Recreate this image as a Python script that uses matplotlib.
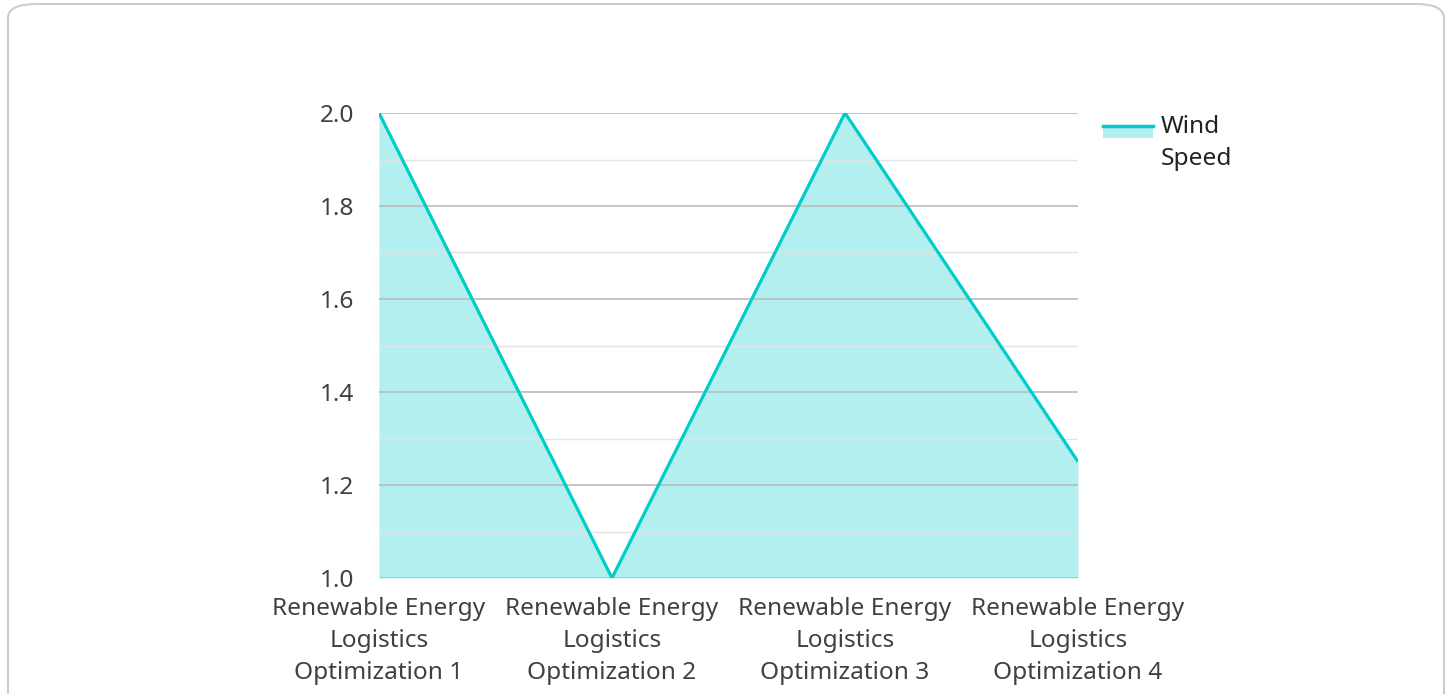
import matplotlib
matplotlib.use("Agg")
import matplotlib.pyplot as plt
from matplotlib.patches import FancyBboxPatch, Rectangle
from matplotlib.lines import Line2D
from matplotlib.ticker import MultipleLocator

plt.rcParams['font.family'] = ['Noto Sans', 'DejaVu Sans']

# Data
categories = ["Renewable Energy\nLogistics\nOptimization 1",
              "Renewable Energy\nLogistics\nOptimization 2",
              "Renewable Energy\nLogistics\nOptimization 3",
              "Renewable Energy\nLogistics\nOptimization 4"]
wind_speed = [2.0, 1.0, 2.0, 1.25]
series_name = "Wind\nSpeed"

line_color = "#00CCCC"
fill_color = "#B2EFEE"
text_color = "#404040"
fs = 17.6

W, H = 1452, 694
fig = plt.figure(figsize=(W / 100, H / 100), dpi=100)

# rounded frame around the chart
frame = FancyBboxPatch((8 / W, -20 / H), (W - 16) / W, (H - 4 + 20) / H,
                       boxstyle="round,pad=0,rounding_size=0.02",
                       transform=fig.transFigure, facecolor="none",
                       edgecolor="#CCCCCC", linewidth=1.5, zorder=-1)
fig.patches.append(frame)

ax = fig.add_axes([379 / W, 1 - 578 / H, (1078 - 379) / W, (578 - 113) / H])
ax.set_facecolor("none")
x = list(range(len(categories)))
ax.fill_between(x, wind_speed, 1.0, color=fill_color, linewidth=0, zorder=1)
ax.plot(x, wind_speed, color=line_color, linewidth=2.3, zorder=3,
        solid_capstyle="butt")

ax.set_xlim(0, len(categories) - 1)
ax.set_ylim(1.0, 2.0)
ax.yaxis.set_major_locator(MultipleLocator(0.2))
ax.yaxis.set_minor_locator(MultipleLocator(0.1))
ax.set_axisbelow(False)
ax.grid(axis="y", which="major", color="#BBBBBB", linewidth=1.2, zorder=2)
ax.grid(axis="y", which="minor", color="#E3E3E3", linewidth=1.0, zorder=2)
for s in ax.spines.values():
    s.set_visible(False)
ax.set_xticks(x)
ax.set_xticklabels(categories, fontsize=fs, color=text_color, linespacing=1.45)
ax.set_yticklabels([f"{v:.1f}" for v in ax.get_yticks()], fontsize=fs, color=text_color)
ax.tick_params(axis="both", which="both", length=0)
ax.tick_params(axis="y", pad=18)
ax.tick_params(axis="x", pad=13.5)

# legend
fig.patches.append(Rectangle((1103 / W, 1 - 138 / H), 50 / W, 13 / H,
                             transform=fig.transFigure, facecolor=fill_color,
                             edgecolor="none"))
fig.lines.append(Line2D([1103 / W, 1153 / W], [1 - 126 / H, 1 - 126 / H],
                        transform=fig.transFigure, color=line_color, linewidth=2.5))
fig.text(1161 / W, 1 - 115 / H, series_name, fontsize=fs, color="#222222",
         va="top", ha="left", linespacing=1.45)

fig.savefig("out.png", dpi=100)
